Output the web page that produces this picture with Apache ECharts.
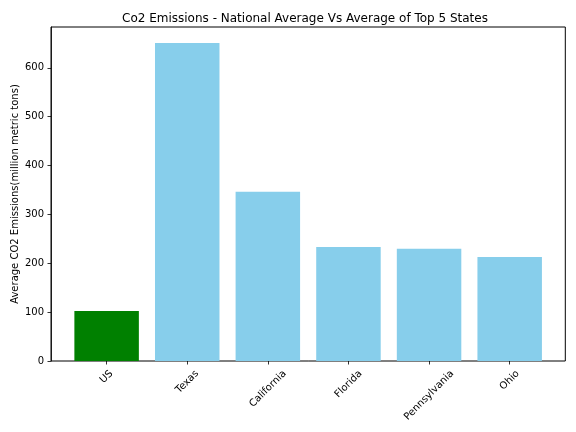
<!DOCTYPE html>
<html>
<head>
<meta charset="utf-8">
<script src="https://cdn.jsdelivr.net/npm/echarts@6/dist/echarts.min.js"></script>
<style>html,body{margin:0;padding:0;background:#fff}#c{width:576px;height:432px}</style>
</head>
<body>
<div id="c"></div>
<script>
const categories = ['US', 'Texas', 'California', 'Florida', 'Pennsylvania', 'Ohio'];
const emissions = [102.5, 651, 346.5, 233.5, 229.5, 213];
const yTicks = [0, 100, 200, 300, 400, 500, 600];
const titleText = 'Co2 Emissions - National Average Vs Average of Top 5 States';
const yAxisTitle = 'Average CO2 Emissions(million metric tons)';

const FONT = '"DejaVu Sans", "Liberation Sans", sans-serif';
const national = '#008000', state = '#87CEEB';
const yMax = 683.5;

// plot frame (matplotlib-like axes box)
const L = 51, R = 565.3, T = 27, B = 361;
const unit = (R - L) / 6.38;
const inset = 0.19 * unit;

// emulate matplotlib centered 45° labels
const ctx = document.createElement('canvas').getContext('2d');
ctx.font = '10px "DejaVu Sans"';
const rich = {};
categories.forEach((c, i) => {
  const w = ctx.measureText(c).width;
  const h = 11.6;
  const D = 7 + (w + h) * 0.3536;
  const p = 1.4142 * D;
  rich['l' + i] = {fontSize: 10, fontFamily: FONT, color: '#000', lineHeight: 12, padding: [p, p, 0, 0]};
});

const chart = echarts.init(document.getElementById('c'), null, {renderer: 'canvas'});
chart.setOption({
  animation: false,
  backgroundColor: '#fff',
  title: {
    text: titleText, left: 117, top: 8,
    textStyle: {fontFamily: FONT, fontSize: 12, fontWeight: 'normal', color: '#000'}
  },
  grid: [
    {left: L, right: 576 - R, top: T, bottom: 432 - B, show: true, borderColor: '#000', borderWidth: 1, outerBoundsMode: 'none', containLabel: false},
    {left: L + inset, right: 576 - R + inset, top: T, bottom: 432 - B, outerBoundsMode: 'none', containLabel: false}
  ],
  xAxis: [
    {gridIndex: 0, type: 'value', min: 0, max: 1, show: false},
    {
      gridIndex: 1, type: 'category', data: categories, boundaryGap: true,
      axisLine: {show: false},
      axisTick: {show: true, alignWithLabel: true, length: 3.5, lineStyle: {color: '#000', width: 0.8}},
      axisLabel: {
        interval: 0, rotate: 45, margin: 0, align: 'center', verticalAlign: 'middle',
        formatter: (v, i) => '{l' + categories.indexOf(v) + '|' + v + '}',
        rich: rich
      },
      splitLine: {show: false}
    }
  ],
  yAxis: [
    {
      gridIndex: 0, type: 'value', min: 0, max: yMax, interval: 100,
      name: yAxisTitle, nameLocation: 'middle', nameGap: 31, nameMoveOverlap: false,
      nameTextStyle: {fontFamily: FONT, fontSize: 10, color: '#000'},
      axisLine: {show: true, lineStyle: {color: '#000', width: 0.8}},
      axisTick: {show: true, inside: false, length: 3.5, customValues: yTicks, lineStyle: {color: '#000', width: 0.8}},
      axisLabel: {customValues: yTicks, margin: 7, fontFamily: FONT, fontSize: 10, color: '#000'},
      splitLine: {show: false}
    },
    {gridIndex: 1, type: 'value', min: 0, max: yMax, show: false, splitLine: {show: false}}
  ],
  series: [{
    type: 'bar', xAxisIndex: 1, yAxisIndex: 1,
    barWidth: '80%',
    data: emissions,
    itemStyle: {color: p => p.dataIndex === 0 ? national : state}
  }]
});
</script>
</body>
</html>
